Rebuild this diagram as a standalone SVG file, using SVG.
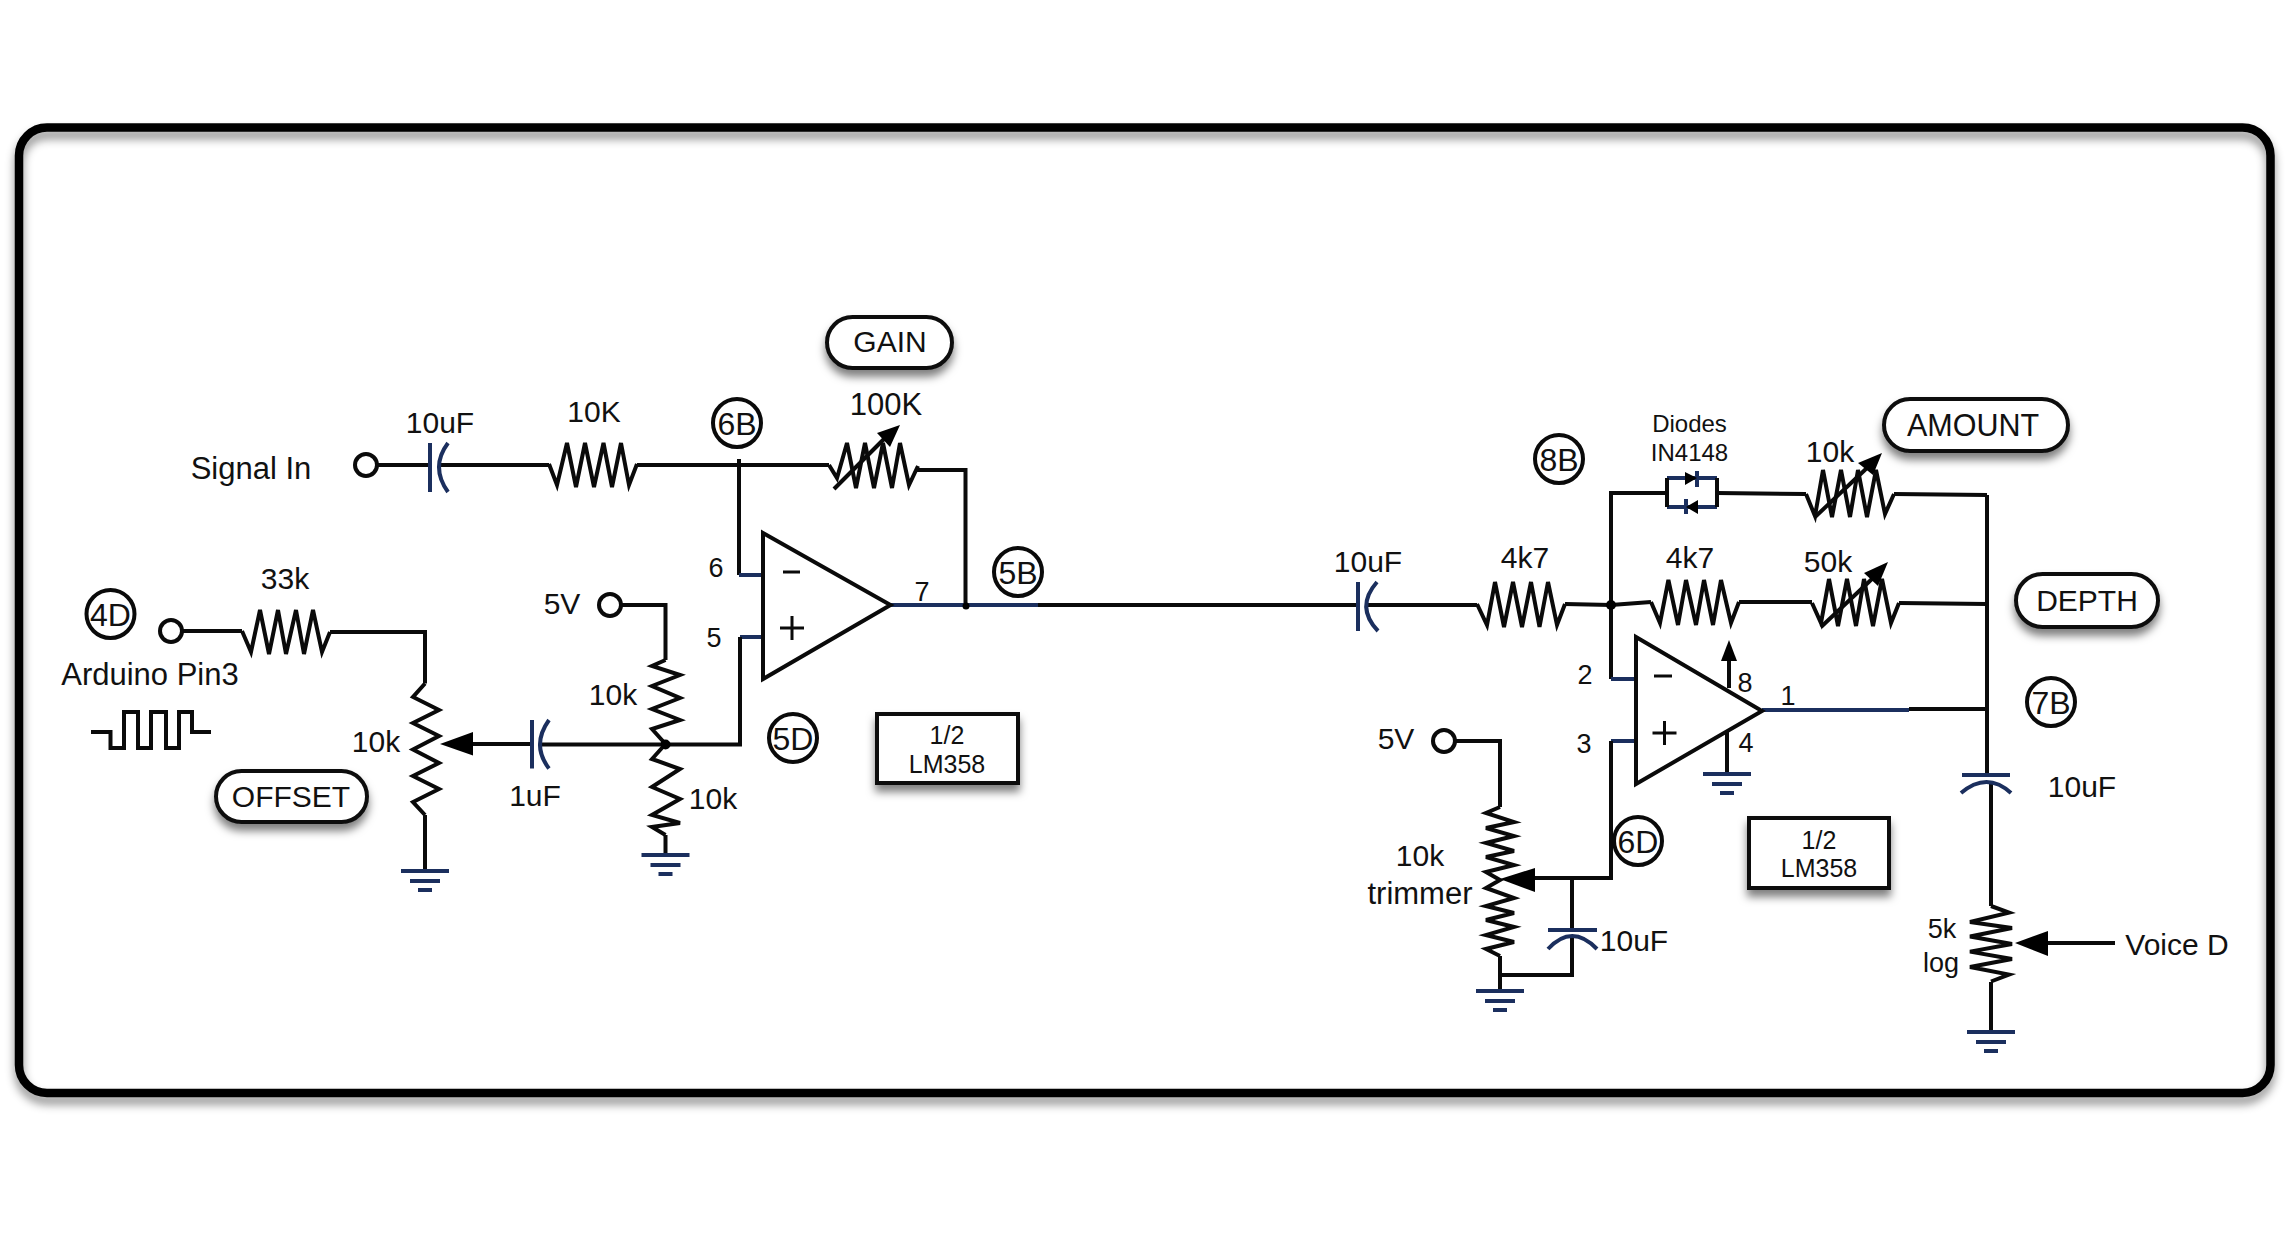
<svg xmlns="http://www.w3.org/2000/svg" width="2291" height="1249" viewBox="0 0 2291 1249">
<style>
text{font-family:"Liberation Sans",Arial,sans-serif;font-size:30px;fill:#111;text-anchor:middle}
.w,.p,.n,.b{fill:none;stroke-linejoin:miter;stroke-linecap:butt}
.w{stroke:#0a0a0a;stroke-width:4}
.p{stroke:#0a0a0a;stroke-width:4}
.q{fill:none;stroke:#0a0a0a;stroke-width:3}
.n{stroke:#1b2f5e;stroke-width:4}
.a{fill:#000;stroke:none}
.t{fill:#fff;stroke:#0a0a0a;stroke-width:4}
.c{fill:#fff;stroke:#0a0a0a;stroke-width:4}
.s{fill:#fff;stroke:#0a0a0a;stroke-width:4;filter:url(#sh)}
.f{font-size:24px}
.m{font-size:25px}
.l{font-size:27px}
.h{font-size:32px}
</style>
<defs>
<filter id="sh" x="-20%" y="-30%" width="140%" height="180%"><feDropShadow dx="0" dy="7" stdDeviation="4" flood-color="#000" flood-opacity=".5"/></filter>
<filter id="bsh" x="-2%" y="-4%" width="104%" height="108%"><feDropShadow dx="0" dy="7" stdDeviation="5" flood-color="#000" flood-opacity=".45"/></filter>
<g id="gnd"><path class="n" d="M-24 0H24M-15 10H15M-7 19H7"/></g>
</defs>
<rect id="frame" x="19" y="127.500" width="2251.500" height="965.500" rx="28" fill="none" stroke="#000" stroke-width="8.500" filter="url(#bsh)"/>
<g id="connectors">
<path class="w" d="M377 465H430M439 465H549M637 465H829"/>
<path class="w" d="M739 459V575"/><path class="n" d="M739 575H763"/>
<path class="n" d="M763 637H740"/><path class="w" d="M740 637V744.500H540"/>
<path class="w" d="M917 470H965.500V605"/>
<path class="n" d="M890 605H1038"/><path class="w" d="M1038 605H1358"/>
<path class="w" d="M182 631H242M330 632H425V683.500M425 815V871"/>
<path class="w" d="M473 744H532"/>
<path class="w" d="M621 605H665.500V660M665.500 835V855"/>
<path class="w" d="M1366 605H1477M1565 604L1611 605L1651 602M1739 602H1812M1899 603L1987 604M1894 494L1987 495"/>
<path class="w" d="M1611 679V493H1667M1717 493L1806 494"/>
<path class="n" d="M1611 679H1636M1636 741H1611"/>
<path class="w" d="M1611 741V878H1535"/>
<path class="n" d="M1762 710H1909"/><path class="w" d="M1909 709H1987"/>
<path class="w" d="M1987 495V775M1991 782V906M1991 982V1032"/>
<path class="w" d="M1455 741H1500V807M1500 956V991M1500 975H1572V937M1572 879V930"/>
<path class="w" d="M1729 688V660M1727 732V774"/>
<path class="w" d="M2048 943H2115"/>
</g>
<g id="sig-in"><text x="251" y="479" style="font-size:31px">Signal In</text><ellipse class="t" cx="366" cy="465" rx="11" ry="11"/></g>
<g id="c-10u-in"><text x="440" y="433">10uF</text><path class="n" d="M430 443V492M448 443Q430 467 448 492"/></g>
<g id="r-10k-in"><text x="594" y="422">10K</text><path class="p" d="M549 464L557 485L567 443L576 487L585 443L594 487L603.500 443L612 487L621 443L629 485L637 464"/></g>
<g id="tp-6b"><circle class="c" cx="737" cy="423" r="24"/><text class="h" x="737" y="435">6B</text></g>
<g id="gain"><rect class="s" x="827" y="317" width="125" height="51" rx="25.500"/><text x="890" y="352">GAIN</text></g>
<g id="pot-100k"><text x="886" y="415" style="font-size:31px">100K</text><path class="p" d="M829 465L837 478L847 443L856 488L865 443L874 488L883 443L892 488L900 443L909 485L918 466"/><path class="p" d="M834 489L885 438"/><path class="a" d="M900 425L890 447L877 433Z"/></g>
<g id="opamp-a"><path class="p" d="M763 533L890.500 605L763 679Z"/><path class="q" d="M783 572H800M780 628H804M792 616V640"/><text x="716" y="577" class="l">6</text><text x="714" y="647" class="l">5</text><text x="922" y="601" class="l">7</text></g>
<g id="dot-5b"><circle cx="966" cy="606" r="3.500" fill="#000"/></g>
<g id="tp-5b"><circle class="c" cx="1018" cy="572" r="24"/><text class="h" x="1018" y="584">5B</text></g>
<g id="tp-5d"><circle class="c" cx="793" cy="738" r="24"/><text class="h" x="793" y="750">5D</text></g>
<g id="lm358-a"><rect class="s" x="877" y="714" width="141" height="69"/><text class="m" x="947" y="744">1/2</text><text class="m" x="947" y="773">LM358</text></g>
<g id="tp-4d"><circle class="c" cx="110.500" cy="614" r="24"/><text class="h" x="110.500" y="626">4D</text></g>
<g id="pin3"><ellipse class="t" cx="171" cy="631" rx="11" ry="11"/><text x="150" y="685" style="font-size:31px">Arduino Pin3</text><path class="p" d="M91 732H110.500V748H124V712H138V748H151V712H166V748H179V712H192V732H211"/></g>
<g id="r-33k"><text x="285" y="589">33k</text><path class="p" d="M242 631L251 652L260 610L269 654L278 610L286 654L296 610L304 654L313 610L322 652L330 632"/></g>
<g id="pot-offset"><text x="376" y="752">10k</text><path class="p" d="M425 683.500L413 697L439 710L413 723L439 736L413 749.500L439 763L413 776L439 789L413 802L425 815"/><path class="a" d="M440 744L473 732V755.500Z"/><use href="#gnd" x="425" y="871"/></g>
<g id="c-1u"><text x="535" y="806">1uF</text><path class="n" d="M532 720V768.500M549 720Q531 745 549 768.500"/></g>
<g id="offset"><rect class="s" x="216" y="771" width="151" height="51" rx="25.500"/><text x="291" y="807">OFFSET</text></g>
<g id="v5-a"><text x="562" y="614">5V</text><ellipse class="t" cx="610" cy="605" rx="11" ry="11"/></g>
<g id="r-10k-up"><text x="613" y="705">10k</text><path class="p" d="M665.500 660L652 666L680 675L652 686L680 698L652 709L680 720L652 729L665.500 744"/></g>
<g id="r-10k-dn"><text x="713" y="809">10k</text><path class="p" d="M665.500 744L652 759L680 769L652 787L680 799L652 815L680 823L652 827L665.500 835"/><use href="#gnd" x="665.500" y="855"/></g>
<g id="dot-a"><circle cx="665.500" cy="744.500" r="5" fill="#000"/></g>
<g id="c-10u-mid"><text x="1368" y="572">10uF</text><path class="n" d="M1358 582V631M1377 582Q1355 607 1378 631"/></g>
<g id="r-4k7-a"><text x="1525" y="568">4k7</text><path class="p" d="M1477 604L1487 625L1495 582L1504 627L1513 582L1522 627L1531 582L1539.500 627L1548 582L1557 625L1565 604"/></g>
<g id="dot-b"><circle cx="1611" cy="605" r="5" fill="#000"/></g>
<g id="r-4k7-b"><text x="1690" y="568">4k7</text><path class="p" d="M1651 602L1660 623L1668.400 580L1678 625L1686 580L1696 625L1704 580L1713 625L1721 580L1731 623L1739 602"/></g>
<g id="tp-8b"><circle class="c" cx="1559" cy="459" r="24"/><text class="h" x="1559" y="471">8B</text></g>
<g id="diodes"><text class="f" x="1689.500" y="432">Diodes</text><text class="f" x="1689.500" y="461">IN4148</text><path class="n" d="M1667 478H1717M1667 507H1717M1697 471V487M1686 499V514"/><path class="w" d="M1667 478V507M1717 478V507"/><path class="a" d="M1685 472L1697 478L1685 485ZM1698 500L1686 507L1698 514Z"/></g>
<g id="pot-10k"><text x="1830" y="462">10k</text><path class="p" d="M1806 494L1815 516L1823 470L1832 517L1841 470L1850 517L1858 470L1867 517L1876 470L1885 514L1894 494"/><path class="p" d="M1815 517L1868 467"/><path class="a" d="M1882 453L1873 475L1858 463Z"/></g>
<g id="pot-50k"><text x="1828" y="572">50k</text><path class="p" d="M1812 603L1821 623L1829 579L1838 626L1847 579L1856 626L1864 579L1873 626L1882 579L1891 623L1899 603"/><path class="p" d="M1821 627L1873 578"/><path class="a" d="M1888 562L1878 586L1864 573Z"/></g>
<g id="amount"><rect class="s" x="1884" y="399" width="184" height="52" rx="26"/><text x="1973" y="436" style="font-size:30.500px">AMOUNT</text></g>
<g id="depth"><rect class="s" x="2016" y="574" width="142" height="53" rx="26.500"/><text x="2087" y="611">DEPTH</text></g>
<g id="tp-7b"><circle class="c" cx="2051" cy="702" r="24"/><text class="h" x="2051" y="714">7B</text></g>
<g id="c-10u-out"><text x="2082" y="797">10uF</text><path class="n" d="M1962 775H2010M1961 793Q1987 771 2011 793"/></g>
<g id="pot-5k"><text class="l" x="1942" y="938">5k</text><text class="l" x="1941" y="972">log</text><path class="p" d="M1991 906L2009 912.600L1970 922L2012 928L1970 936.500L2012 944L1970 951.600L2012 959L1970 967L2009 974.600L1991 981.500"/><path class="a" d="M2015 943L2048 931V956Z"/><use href="#gnd" x="1991" y="1032"/></g>
<g id="voice-d"><text x="2177" y="955">Voice D</text></g>
<g id="opamp-b"><path class="p" d="M1636 637L1762 711L1636 784Z"/><path class="q" d="M1654 676H1672M1652.500 733H1676.500M1664.500 721V745"/><text class="l" x="1585" y="684">2</text><text class="l" x="1584" y="753">3</text><text class="l" x="1745" y="692">8</text><text class="l" x="1746" y="752">4</text><text class="l" x="1788" y="705">1</text><path class="a" d="M1729 640L1737 661H1721Z"/><use href="#gnd" x="1727" y="774"/></g>
<g id="v5-b"><text x="1396" y="749">5V</text><ellipse class="t" cx="1444" cy="741" rx="11" ry="11"/></g>
<g id="trimmer"><text x="1420" y="866">10k</text><text x="1420" y="904" style="font-size:31px">trimmer</text><path class="p" d="M1500 807L1486 813L1514 822L1486 828L1514 836L1486 843L1514 851L1486 857L1514 865L1486 872L1500 880L1486 888L1514 898L1486 906L1514 913L1486 920L1514 927L1486 935L1514 942L1486 949L1500 956"/><path class="a" d="M1500 879L1535 868V892Z"/><use href="#gnd" x="1500" y="991"/></g>
<g id="c-10u-trim"><text x="1634" y="951">10uF</text><path class="n" d="M1548 930H1597M1548 949Q1572 923 1597 949"/></g>
<g id="tp-6d"><circle class="c" cx="1638" cy="841" r="24"/><text class="h" x="1638" y="853">6D</text></g>
<g id="lm358-b"><rect class="s" x="1749" y="818" width="140" height="70"/><text class="m" x="1819" y="849">1/2</text><text class="m" x="1819" y="877">LM358</text></g>
</svg>
